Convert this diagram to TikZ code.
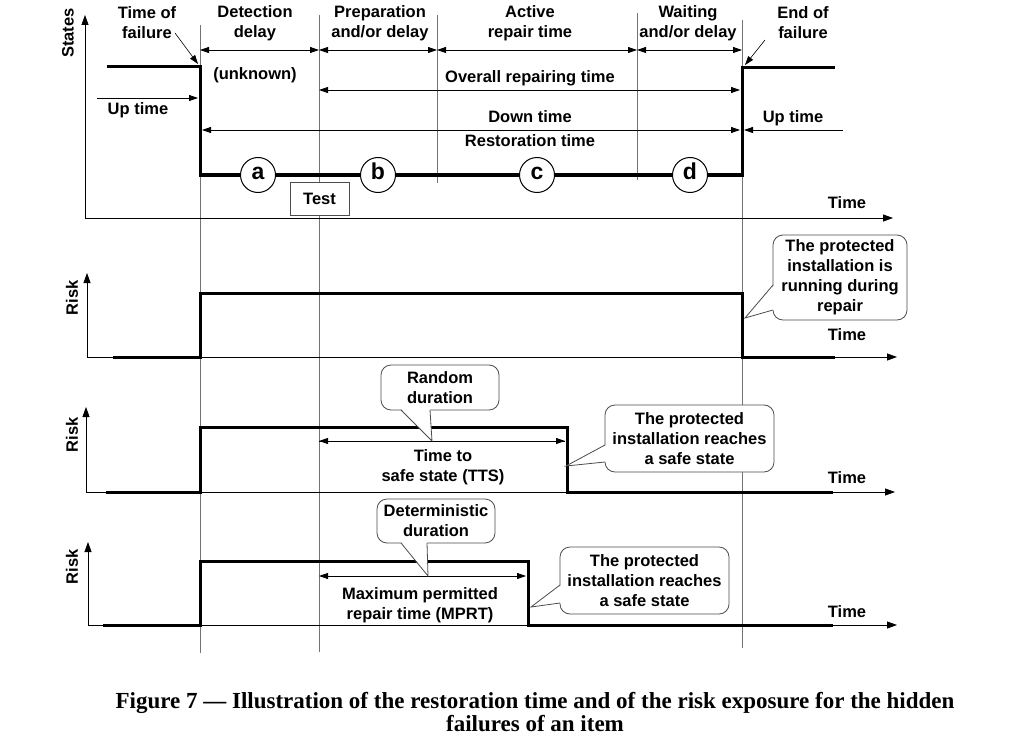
\documentclass[tikz,border=0pt]{standalone}
\usepackage{fontspec}
\setmainfont{Liberation Sans}
\newfontfamily\capfont{Liberation Serif}
\usetikzlibrary{arrows.meta}
\begin{document}
\begin{tikzpicture}[x=1pt,y=-1pt,
  every node/.style={font=\bfseries\fontsize{16.5}{20}\selectfont, inner sep=0pt, align=center},
  sig/.style={line width=3pt, line join=miter},
  vline/.style={draw=black!55, line width=0.8pt},
  axis/.style={line width=0.8pt, -{Triangle[length=10pt,width=7pt]}},
  dim/.style={line width=0.8pt, {Triangle[length=9pt,width=6pt]}-{Triangle[length=9pt,width=6pt]}},
  onearrow/.style={line width=0.8pt, -{Triangle[length=9pt,width=6pt]}},
  thinarrow/.style={line width=0.6pt, -{Triangle[length=9pt,width=6pt]}},
  letter/.style={circle, draw, line width=1pt, fill=white, minimum size=35pt, text height=8pt, text depth=0pt, font=\bfseries\fontsize{23}{23}\selectfont},
  testbox/.style={draw=black!70, line width=0.8pt, fill=white, minimum width=59pt, minimum height=33pt},
  callbox/.style={draw=black!70, line width=0.8pt, fill=white, rounded corners=10pt},
  ptr/.style={draw=black!70, line width=0.8pt},
  rot/.style={rotate=90}
]
\useasboundingbox (0,0) rectangle (1024,738);

% vertical reference lines
\draw[vline] (200,25) -- (200,653);
\draw[vline] (319,15) -- (319,652);
\draw[vline] (437,15) -- (437,183);
\draw[vline] (637,13) -- (637,180);
\draw[vline] (742,20) -- (742,648);

% ---------- States panel ----------
\coordinate (o0) at (85,218);
\draw[axis] (o0) -- (85,15);
\draw[axis] (o0) -- (893,218);
\node[rot] (states) at (68,33) {States};
\node (time0) at (847,203) {Time};

\coordinate (s0) at (107,67);
\coordinate (s1) at (200,67);
\coordinate (s2) at (200,175);
\coordinate (s3) at (742,175);
\coordinate (s4) at (742,68);
\coordinate (s5) at (835,68);
\draw[sig] (s0) -- (s1) -- (s2) -- (s3) -- (s4) -- (s5);

\node[letter] (la) at (258,175) {a};
\node[letter] (lb) at (378,175) {b};
\node[letter] (lc) at (537,175) {c};
\node[letter] (ld) at (690,175) {d};
\node[testbox] (test) at (319.5,198.5) {Test};

% top labels
\node (tof) at (147,23) {Time of\\failure};
\node (detd) at (255,23) {Detection\\delay};
\node (prep) at (380,23) {Preparation\\and/or delay};
\node (act) at (530,23) {Active\\repair time};
\node (wait) at (688,23) {Waiting\\and/or delay};
\node (eof) at (803,23) {End of\\failure};

\coordinate (p200) at (200,50);
\coordinate (p319) at (319,50);
\coordinate (p437) at (437,50);
\coordinate (p637) at (637,50);
\coordinate (p742) at (742,50);
\draw[dim] (p200) -- (p319);
\draw[dim] (p319) -- (p437);
\draw[dim] (p437) -- (p637);
\draw[dim] (p637) -- (p742);

\coordinate (tofA) at (175,33);
\coordinate (tofB) at (198,64);
\draw[thinarrow] (tofA) -- (tofB);
\coordinate (eofA) at (765,40);
\coordinate (eofB) at (745,65);
\draw[thinarrow] (eofA) -- (eofB);

\node (unk) at (255,75) {(unknown)};
\node (ovr) at (530,78) {Overall repairing time};
\coordinate (ov1) at (319,90);
\coordinate (ov2) at (740,90);
\draw[dim] (ov1) -- (ov2);

\coordinate (ut1) at (97,98);
\coordinate (ut2) at (198,98);
\draw[onearrow] (ut1) -- (ut2);
\node (uptime1) at (138,110) {Up time};

\node (down) at (530,117) {Down time};
\node (rest) at (530,141) {Restoration time};
\coordinate (dt1) at (202,130);
\coordinate (dt2) at (740,130);
\draw[dim] (dt1) -- (dt2);
\coordinate (ur1) at (843,130);
\coordinate (ur2) at (744,130);
\draw[onearrow] (ur1) -- (ur2);
\node (uptime2) at (793,118) {Up time};

% ---------- Risk panel 1 ----------
\coordinate (o1) at (87,357);
\draw[axis] (o1) -- (87,273);
\draw[axis] (o1) -- (897,357);
\node[rot] (risk1) at (72,298) {Risk};
\node (time1) at (847,335) {Time};
\draw[sig] (113,357) -- (200,357) -- (200,293) -- (742,293) -- (742,357) -- (835,357);

\node[callbox, minimum width=134pt, minimum height=85pt] (cb1) at (840,277.5) {The protected\\installation is\\running during\\repair};
\fill[white] (774.5,285) -- (745,318) -- (774.5,310) -- cycle;
\draw[ptr] (773,285) -- (745,318) -- (773,310);

% ---------- Risk panel 2 ----------
\coordinate (o2) at (86,492);
\draw[axis] (o2) -- (86,407);
\draw[axis] (o2) -- (895,492);
\node[rot] (risk2) at (72,435) {Risk};
\node (time2) at (847,478) {Time};
\draw[sig] (106,492) -- (200,492) -- (200,427) -- (567,427) -- (567,492) -- (833,492);

\coordinate (tts1) at (319,441);
\coordinate (tts2) at (565,441);
\draw[onearrow] (tts2) -- (tts1);
\draw[onearrow] (tts1) -- (tts2);
\node (tts) at (443,467) {Time to\\safe state (TTS)};

\node[callbox, minimum width=118pt, minimum height=45pt] (rd) at (440,387.5) {Random\\duration};
\fill[white] (401,408.5) -- (432,441) -- (430,408.5) -- cycle;
\draw[ptr] (401,410) -- (432,441) -- (430,410);

\node[callbox, minimum width=169pt, minimum height=67pt] (cb2) at (689.5,438.5) {The protected\\installation reaches\\a safe state};
\fill[white] (606.5,445) -- (566,466) -- (606.5,462) -- cycle;
\draw[ptr] (605,445) -- (566,466) -- (605,462);

% ---------- Risk panel 3 ----------
\coordinate (o3) at (88,625);
\draw[axis] (o3) -- (88,542);
\draw[axis] (o3) -- (897,625);
\node[rot] (risk3) at (72,567) {Risk};
\node (time3) at (847,612) {Time};
\draw[sig] (103,625) -- (200,625) -- (200,561) -- (528,561) -- (528,625) -- (833,625);

\coordinate (mp1) at (319,576);
\coordinate (mp2) at (526,576);
\draw[dim] (mp1) -- (mp2);
\node (mprt) at (420,605) {Maximum permitted\\repair time (MPRT)};

\node[callbox, minimum width=118pt, minimum height=44pt] (dd) at (436,521) {Deterministic\\duration};
\fill[white] (401,541.5) -- (428,576) -- (427,541.5) -- cycle;
\draw[ptr] (401,543) -- (428,576) -- (427,543);

\node[callbox, minimum width=169pt, minimum height=67pt] (cb3) at (644.5,580.5) {The protected\\installation reaches\\a safe state};
\fill[white] (561.5,585) -- (531,607) -- (561.5,603) -- cycle;
\draw[ptr] (560,585) -- (531,607) -- (560,603);

% ---------- Caption ----------
\node[font=\capfont\bfseries\fontsize{23}{21}\selectfont] (cap) at (535,712) {Figure 7 — Illustration of the restoration time and of the risk exposure for the hidden\\failures of an item};
\end{tikzpicture}
\end{document}
